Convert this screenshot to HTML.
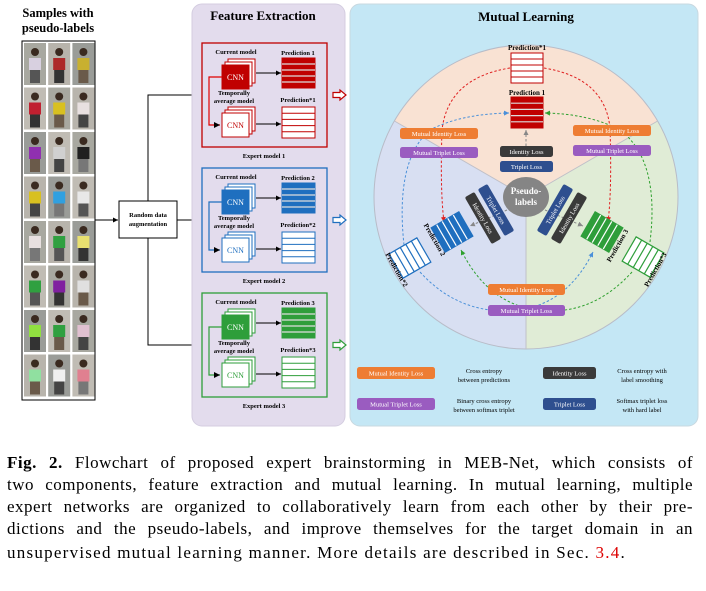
<!DOCTYPE html>
<html><head><meta charset="utf-8"><style>
body{margin:0;width:706px;height:591px;background:#fff;overflow:hidden;position:relative;font-family:"Liberation Serif",serif}
svg{position:absolute;left:0;top:0}
.cap{position:absolute;left:7px;width:686px;font-size:17px;letter-spacing:0.5px;line-height:22px;color:#000;text-align:justify;text-align-last:justify;white-space:nowrap}
</style></head><body>
<svg width="706" height="440" viewBox="0 0 706 440" font-family="Liberation Serif, serif">
<defs>
<marker id="ab" markerWidth="6" markerHeight="6" refX="5" refY="3" orient="auto"><path d="M0,0.5 L5,3 L0,5.5z" fill="#000"/></marker>
<marker id="ar" markerWidth="6" markerHeight="6" refX="5" refY="3" orient="auto"><path d="M0,0.5 L5,3 L0,5.5z" fill="#e02020"/></marker>
<marker id="abl" markerWidth="6" markerHeight="6" refX="5" refY="3" orient="auto"><path d="M0,0.5 L5,3 L0,5.5z" fill="#4a90d9"/></marker>
<marker id="ag" markerWidth="6" markerHeight="6" refX="5" refY="3" orient="auto"><path d="M0,0.5 L5,3 L0,5.5z" fill="#2ea02e"/></marker>
<marker id="agr" markerWidth="6" markerHeight="6" refX="5" refY="3" orient="auto"><path d="M0,0.5 L5,3 L0,5.5z" fill="#888"/></marker>
</defs>
<text x="58" y="17" text-anchor="middle" font-weight="bold" font-size="12.5">Samples with</text>
<text x="58" y="32" text-anchor="middle" font-weight="bold" font-size="12.5">pseudo-labels</text>
<rect x="22" y="41" width="73" height="359" fill="#fff" stroke="#000" stroke-width="1"/>
<g id="people"></g>
<rect x="119" y="201" width="58" height="37" fill="#fff" stroke="#000"/>
<text x="148" y="217" text-anchor="middle" font-size="6.5" font-weight="bold">Random data</text>
<text x="148" y="226" text-anchor="middle" font-size="6.5" font-weight="bold">augmentation</text>
<line x1="95" y1="220" x2="118" y2="220" stroke="#000" marker-end="url(#ab)"/>
<path d="M148,201 V95 H199" fill="none" stroke="#000" marker-end="url(#ab)"/>
<path d="M177,220 H199" fill="none" stroke="#000" marker-end="url(#ab)"/>
<path d="M148,238 V345 H199" fill="none" stroke="#000" marker-end="url(#ab)"/>
<rect x="192" y="4" width="153" height="422" rx="10" fill="#e3dced" stroke="#d4cde0"/>
<text x="263" y="20" text-anchor="middle" font-weight="bold" font-size="13">Feature Extraction</text>
<rect x="350" y="4" width="348" height="422" rx="10" fill="#c4e7f5" stroke="#c8d8e0"/>
<text x="526" y="21" text-anchor="middle" font-weight="bold" font-size="13">Mutual Learning</text>
<g id="experts"></g>
<g transform="translate(526,197)">
<path d="M0,0 L-131.6,-76 A152,152 0 0 1 131.6,-76 Z" fill="#f9e2d3"/>
<path d="M0,0 L0,152 A152,152 0 0 1 -131.6,-76 Z" fill="#d8dff2"/>
<path d="M0,0 L131.6,-76 A152,152 0 0 1 0,152 Z" fill="#e0ecd6"/>
<circle r="152" fill="none" stroke="#b8bcc8" stroke-width="1"/>
<path d="M0,0 L-131.6,-76 M0,0 L131.6,-76 M0,0 L0,152" stroke="#c0c0c8" stroke-width="1"/>
</g>
<g fill="none" stroke-width="1" stroke-dasharray="2.5,2">
<path d="M510,68 Q448,78 442,130 Q440,190 444,222" stroke="#e02020" marker-end="url(#ar)"/>
<path d="M544,68 Q605,78 610,128 Q612,190 608,222" stroke="#e02020" marker-end="url(#ar)"/>
<path d="M404,245 Q395,160 430,130 Q460,114 509,113" stroke="#4a90d9" marker-end="url(#abl)"/>
<path d="M420,272 Q450,305 490,310 Q560,318 593,252" stroke="#4a90d9" marker-end="url(#abl)"/>
<path d="M650,242 Q660,160 620,130 Q590,114 545,113" stroke="#2ea02e" marker-end="url(#ag)"/>
<path d="M632,272 Q602,305 565,310 Q495,318 461,250" stroke="#2ea02e" marker-end="url(#ag)"/>
<path d="M526,146 V130" stroke="#888" marker-end="url(#agr)"/>
<path d="M507,210 L470,226" stroke="#888" marker-end="url(#agr)"/>
<path d="M545,210 L583,226" stroke="#888" marker-end="url(#agr)"/>
</g>
<text x="527" y="50" text-anchor="middle" font-size="7" font-weight="bold">Prediction*1</text>
<g id="p1s"></g>
<text x="527" y="95" text-anchor="middle" font-size="7" font-weight="bold">Prediction 1</text>
<g id="p1"></g>
<g id="rot"></g>
<ellipse cx="526" cy="197" rx="23" ry="20" fill="#858585"/>
<text x="526" y="194" text-anchor="middle" font-size="9" font-weight="bold" fill="#fff">Pseudo-</text>
<text x="526" y="205" text-anchor="middle" font-size="9" font-weight="bold" fill="#fff">labels</text>
<g id="tags" font-size="6.5" fill="#fff" text-anchor="middle"></g>
<g font-size="6.5" text-anchor="middle">
<text x="484" y="373">Cross entropy</text><text x="484" y="382">between predictions</text>
<text x="484" y="403">Binary cross entropy</text><text x="484" y="412">between softmax triplet</text>
<text x="642" y="373">Cross entropy with</text><text x="642" y="382">label smoothing</text>
<text x="642" y="403">Softmax triplet loss</text><text x="642" y="412">with hard label</text>
</g>
</svg>
<div class="cap" style="top:452px"><b>Fig. 2.</b> Flowchart of proposed expert brainstorming in MEB-Net, which consists of</div>
<div class="cap" style="top:474px">two components, feature extraction and mutual learning. In mutual learning, multiple</div>
<div class="cap" style="top:496px">expert networks are organized to collaboratively learn from each other by their pre-</div>
<div class="cap" style="top:518px">dictions and the pseudo-labels, and improve themselves for the target domain in an</div>
<div class="cap" style="top:542px;text-align:left;text-align-last:left;letter-spacing:1.25px">unsupervised mutual learning manner. More details are described in Sec. <span style="color:#d00">3.4</span>.</div>
<script>
const NS="http://www.w3.org/2000/svg";
function el(p,t,a,txt){const e=document.createElementNS(NS,t);for(const k in a)e.setAttribute(k,a[k]);if(txt!==undefined)e.textContent=txt;p.appendChild(e);return e;}
const pg=document.getElementById('people');
const shirts=[["#d8d0e0","#ad2a2a","#c8b030"],["#c02030","#d8c020","#e8e0e0"],["#9030b0","#d0d0d0","#202020"],["#d8c020","#30a0e0","#e8e8e8"],["#e8e0e0","#30a040","#e8e070"],["#30a040","#8020a0","#e0e0e0"],["#90e040","#30a040","#e0c0d0"],["#90e0a0","#f0f0f0","#e08090"]];
const legs=["#555","#333","#6a5a4a","#444","#777"];
const bgs=["#a8a8a0","#b8b4ac","#9a9c98","#c0bcb4"];
for(let r=0;r<8;r++)for(let c=0;c<3;c++){const x=24+c*24.2,y=43+r*44.5;
el(pg,'rect',{x:x,y:y,width:22,height:42,fill:bgs[(r*3+c)%4]});
el(pg,'rect',{x:x+5,y:y+15,width:12,height:12,fill:shirts[r][c]});
el(pg,'circle',{cx:x+11,cy:y+9,r:4,fill:"#3a2a20"});
el(pg,'rect',{x:x+6,y:y+27,width:10,height:13,fill:legs[(r+c)%5]});}
const eg=document.getElementById('experts');
function pred(g,x,y,w,h,col,filled,n){el(g,'rect',{x:x,y:y,width:w,height:h,fill:filled?col:"#fff",stroke:col,"stroke-width":1});
for(let i=1;i<n;i++){el(g,'line',{x1:x,x2:x+w,y1:y+h*i/n,y2:y+h*i/n,stroke:filled?"#ddd":col,"stroke-width":filled?1.2:1});}}
function cnn(g,x,y,col,filled){for(let k=2;k>=0;k--){el(g,'rect',{x:x+k*3,y:y-k*3,width:27,height:24,fill:k==0&&filled?col:"#fff",stroke:col,"stroke-width":1});}
el(g,'text',{x:x+13.5,y:y+15,"text-anchor":"middle","font-size":8,fill:filled?"#fff":col},"CNN");}
[["#c00000",43,"1","#e00000"],["#1f6fbf",168,"2","#1f6fbf"],["#2e9e3a",293,"3","#2e9e3a"]].forEach(([c,y0,n,lc])=>{
el(eg,'rect',{x:202,y:y0,width:125,height:104,fill:"none",stroke:c,"stroke-width":1.3});
const t=(x,y,s)=>el(eg,'text',{x:x,y:y,"text-anchor":"middle","font-size":6.5,"font-weight":"bold"},s);
t(236,y0+11,"Current model");t(298,y0+12,"Prediction "+n);
t(234,y0+52,"Temporally");t(234,y0+60,"average model");t(298,y0+59,"Prediction*"+n);
el(eg,'text',{x:264,y:y0+115,"text-anchor":"middle","font-size":6.5,"font-weight":"bold"},"Expert model "+n);
cnn(eg,222,y0+22,c,true);cnn(eg,222,y0+70,c,false);
el(eg,'path',{d:`M222,${y0+34} H209 V${y0+82} H220`,fill:"none",stroke:lc,"stroke-width":1.2,"marker-end":"url(#ab)"});
el(eg,'line',{x1:256,x2:281,y1:y0+30,y2:y0+30,stroke:"#000","marker-end":"url(#ab)"});
el(eg,'line',{x1:256,x2:281,y1:y0+81,y2:y0+81,stroke:"#000","marker-end":"url(#ab)"});
pred(eg,282,y0+15,33,30,c,true,5);pred(eg,282,y0+64,33,31,c,false,5);
const ay=y0+52;el(eg,'path',{d:`M333,${ay-2.5} H340 V${ay-5} L346,${ay} L340,${ay+5} V${ay+2.5} H333Z`,fill:"#fff",stroke:c,"stroke-width":1.2});});
pred(document.getElementById('p1s'),511,53,32,30,"#c00000",false,5);
pred(document.getElementById('p1'),511,97,32,31,"#c00000",true,5);
const rg=document.getElementById('rot');
function rpred(cx,cy,ang,col,filled){const g=el(rg,'g',{transform:`translate(${cx},${cy}) rotate(${ang})`});
el(g,'rect',{x:-16,y:-14,width:32,height:28,fill:filled?col:"#fff",stroke:col,"stroke-width":1.2});
for(let i=1;i<5;i++)el(g,'line',{x1:-16+32*i/5,x2:-16+32*i/5,y1:-14,y2:14,stroke:filled?"#fff":col,"stroke-width":1.2});}
rpred(452,232,-30,"#1f6fbf",true);rpred(410,258,-30,"#1f6fbf",false);
rpred(602,232,30,"#2e9e3a",true);rpred(643,257,30,"#2e9e3a",false);
function rtext(x,y,a,s){el(rg,'text',{x:0,y:0,transform:`translate(${x},${y}) rotate(${a})`,"text-anchor":"middle","font-size":7,"font-weight":"bold","dominant-baseline":"middle"},s);}
rtext(434,240,60,"Prediction 2");rtext(396,270,60,"Prediction*2");
rtext(618,246,-60,"Prediction 3");rtext(656,270,-60,"Prediction*3");
function rbar(x,y,a,col,s){const g=el(rg,'g',{transform:`translate(${x},${y}) rotate(${a})`});
el(g,'rect',{x:-27,y:-5.5,width:54,height:11,rx:2,fill:col});
el(g,'text',{x:0,y:2.5,"text-anchor":"middle","font-size":6.5,fill:"#fff"},s);}
rbar(496,210,60,"#2e4f8f","Triplet Loss");rbar(483,218,60,"#3a3a3a","Identity Loss");
rbar(555,210,-60,"#2e4f8f","Triplet Loss");rbar(569,218,-60,"#3a3a3a","Identity Loss");
const tg=document.getElementById('tags');
function tag(x,y,w,h,col,s){el(tg,'rect',{x:x,y:y,width:w,height:h,rx:2.5,fill:col});el(tg,'text',{x:x+w/2,y:y+h/2+2.3},s);}
const OR="#ee7d33",PU="#9a5cc0",DK="#3a3a3a",NV="#2e4f8f";
tag(400,128,78,11,OR,"Mutual  Identity Loss");tag(400,147,78,11,PU,"Mutual Triplet Loss");
tag(573,125,78,11,OR,"Mutual  Identity Loss");tag(573,145,78,11,PU,"Mutual Triplet Loss");
tag(500,146,53,11,DK,"Identity Loss");tag(500,161,53,11,NV,"Triplet Loss");
tag(488,284,77,11,OR,"Mutual  Identity Loss");tag(488,305,77,11,PU,"Mutual Triplet Loss");
tag(357,367,78,12,OR,"Mutual  Identity Loss");tag(357,398,78,12,PU,"Mutual Triplet Loss");
tag(543,367,53,12,DK,"Identity Loss");tag(543,398,53,12,NV,"Triplet Loss");
</script>
</body></html>
